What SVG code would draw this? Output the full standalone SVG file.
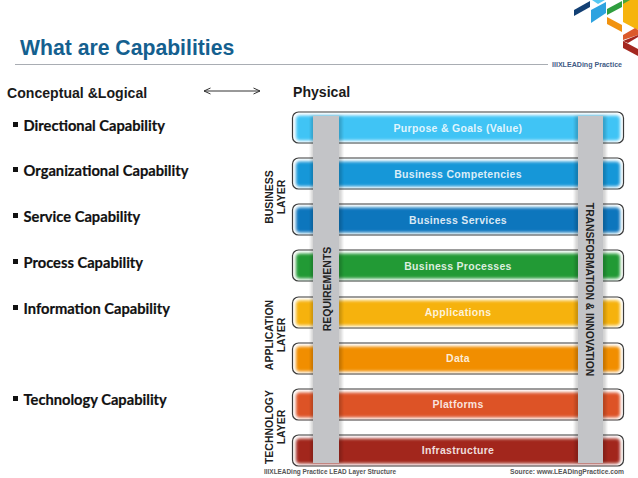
<svg xmlns="http://www.w3.org/2000/svg" width="638" height="478" viewBox="0 0 638 478">
<style>
text{font-family:"Liberation Sans",Arial,sans-serif}
.item{font-family:Lato,"Open Sans",sans-serif;font-weight:700;font-size:14.7px;fill:#111;stroke:#111;stroke-width:.2}
.head{font-weight:700;font-size:14.1px;fill:#1a1a1a}
.band{font-weight:700;font-size:10.5px;fill:#fff;fill-opacity:.85;text-anchor:middle;letter-spacing:.3px}
.layer{font-weight:700;font-size:10.5px;fill:#222;text-anchor:middle}
.bar{fill:#c3c4c7}
.edge{fill:#000;fill-opacity:.18}
.outer{stroke:#3a3a3a;stroke-width:1.2;fill:#fff}
.foot{font-size:7.2px;fill:#555;font-weight:700}
.dot{fill:#111}
</style>
<defs>
<filter id="soft" x="-5%" y="-30%" width="110%" height="160%"><feGaussianBlur stdDeviation="1.4"/></filter>
<marker id="arr" viewBox="0 0 8 8" refX="7.5" refY="4" markerWidth="8" markerHeight="8" orient="auto-start-reverse" markerUnits="userSpaceOnUse"><path d="M1 1L7.5 4L1 7" fill="none" stroke="#333" stroke-width="1"/></marker>
</defs>
<rect width="638" height="478" fill="#fff"/>
<g id="logo">
<polygon points="574,10 590,1 590,7 574,16" fill="#123f73"/>
<polygon points="591,10 606,2 606,13 591,23" fill="#2ea3e0"/>
<polygon points="592,0 605,0 598,4" fill="#55c8f2"/>
<polygon points="607,9 622,1 622,7 607,15" fill="#2f9e3f"/>
<polygon points="623,0 638,0 638,30 623,22" fill="#f6b40e"/>
<polygon points="623,0 630,0 623,4" fill="#4aa63c"/>
<polygon points="607,17 622,25 622,32 607,24" fill="#f1920f"/>
<polygon points="623,35 635,28 638,30 638,35 623,40" fill="#dc5a2b"/>
<polygon points="623,41 638,49 638,56 623,48" fill="#a4271f"/>
<polygon points="623,41 638,35 638,37 628,43" fill="#a4271f"/>
</g>
<g id="title">
<text x="20" y="55" font-size="21.2" font-weight="700" fill="#14608f">What are Capabilities</text>
<line x1="15" y1="64.500" x2="548" y2="64.500" stroke="#a9adb3" stroke-width="1"/>
<text x="552" y="67" font-size="7.500" font-weight="700" fill="#3f5b85" textLength="70" lengthAdjust="spacingAndGlyphs">IIIXLEADing Practice</text>
</g>
<g id="connectors">
<line x1="204" y1="91" x2="260" y2="91" stroke="#333" stroke-width="1" marker-start="url(#arr)" marker-end="url(#arr)"/>
</g>
<g id="headers">
<text class="head" x="7" y="97.500">Conceptual &amp;Logical</text>
<text class="head" x="293" y="97">Physical</text>
</g>
<g id="capabilities">
<g id="cap1"><rect class="dot" x="13" y="122" width="5" height="5"/><text class="item" x="23.500" y="131">Directional Capability</text></g>
<g id="cap2"><rect class="dot" x="13" y="167" width="5" height="5"/><text class="item" x="23.500" y="176">Organizational Capability</text></g>
<g id="cap3"><rect class="dot" x="13" y="213" width="5" height="5"/><text class="item" x="23.500" y="222">Service Capability</text></g>
<g id="cap4"><rect class="dot" x="13" y="259" width="5" height="5"/><text class="item" x="23.500" y="268">Process Capability</text></g>
<g id="cap5"><rect class="dot" x="13" y="305" width="5" height="5"/><text class="item" x="23.500" y="314">Information Capability</text></g>
<g id="cap6"><rect class="dot" x="13" y="396" width="5" height="5"/><text class="item" x="23.500" y="405">Technology Capability</text></g>
</g>
<g id="layer-labels">
<text class="layer" transform="translate(273 197) rotate(-90)">BUSINESS</text>
<text class="layer" transform="translate(285 197) rotate(-90)">LAYER</text>
<text class="layer" transform="translate(273 335) rotate(-90)">APPLICATION</text>
<text class="layer" transform="translate(285 335) rotate(-90)">LAYER</text>
<text class="layer" transform="translate(273 427) rotate(-90)">TECHNOLOGY</text>
<text class="layer" transform="translate(285 427) rotate(-90)">LAYER</text>
</g>
<g id="band-purpose"><rect class="outer" x="292.500" y="112" width="331" height="31" rx="6"/><rect x="296" y="115.500" width="324" height="25" rx="4" fill="#40c4f5" filter="url(#soft)"/><text class="band" x="458" y="131.500">Purpose &amp; Goals (Value)</text></g>
<g id="band-competencies"><rect class="outer" x="292.500" y="158" width="331" height="31" rx="6"/><rect x="296" y="161.500" width="324" height="25" rx="4" fill="#1297d8" filter="url(#soft)"/><text class="band" x="458" y="177.500">Business Competencies</text></g>
<g id="band-services"><rect class="outer" x="292.500" y="204" width="331" height="31" rx="6"/><rect x="296" y="207.500" width="324" height="25" rx="4" fill="#0d76bd" filter="url(#soft)"/><text class="band" x="458" y="223.500">Business Services</text></g>
<g id="band-processes"><rect class="outer" x="292.500" y="250" width="331" height="31" rx="6"/><rect x="296" y="253.500" width="324" height="25" rx="4" fill="#229a36" filter="url(#soft)"/><text class="band" x="458" y="269.500">Business Processes</text></g>
<g id="band-applications"><rect class="outer" x="292.500" y="297" width="331" height="31" rx="6"/><rect x="296" y="300.500" width="324" height="25" rx="4" fill="#f6b207" filter="url(#soft)"/><text class="band" x="458" y="316">Applications</text></g>
<g id="band-data"><rect class="outer" x="292.500" y="343" width="331" height="31" rx="6"/><rect x="296" y="346.500" width="324" height="25" rx="4" fill="#f18e02" filter="url(#soft)"/><text class="band" x="458" y="362">Data</text></g>
<g id="band-platforms"><rect class="outer" x="292.500" y="389" width="331" height="31" rx="6"/><rect x="296" y="392.500" width="324" height="25" rx="4" fill="#dd5328" filter="url(#soft)"/><text class="band" x="458" y="408">Platforms</text></g>
<g id="band-infrastructure"><rect class="outer" x="292.500" y="435" width="331" height="31" rx="6"/><rect x="296" y="438.500" width="324" height="25" rx="4" fill="#a2251d" filter="url(#soft)"/><text class="band" x="458" y="454">Infrastructure</text></g>
<g id="requirements">
<rect class="edge" x="311" y="116" width="31" height="347" filter="url(#soft)"/>
<rect class="bar" x="313" y="116" width="26" height="347"/>
<text class="layer" transform="translate(330.500 289) rotate(-90)">REQUIREMENTS</text>
</g>
<g id="transformation">
<rect class="edge" x="575" y="116" width="31" height="347" filter="url(#soft)"/>
<rect class="bar" x="578" y="116" width="25" height="347"/>
<text class="layer" style="font-size:10.3px" transform="translate(586 289.500) rotate(90)">TRANSFORMATION &amp; INNOVATION</text>
</g>
<g id="footer">
<text class="foot" x="264" y="474" textLength="132" lengthAdjust="spacingAndGlyphs">IIIXLEADing Practice LEAD Layer Structure</text>
<text class="foot" x="510" y="474" textLength="114" lengthAdjust="spacingAndGlyphs">Source: www.LEADingPractice.com</text>
</g>
</svg>
